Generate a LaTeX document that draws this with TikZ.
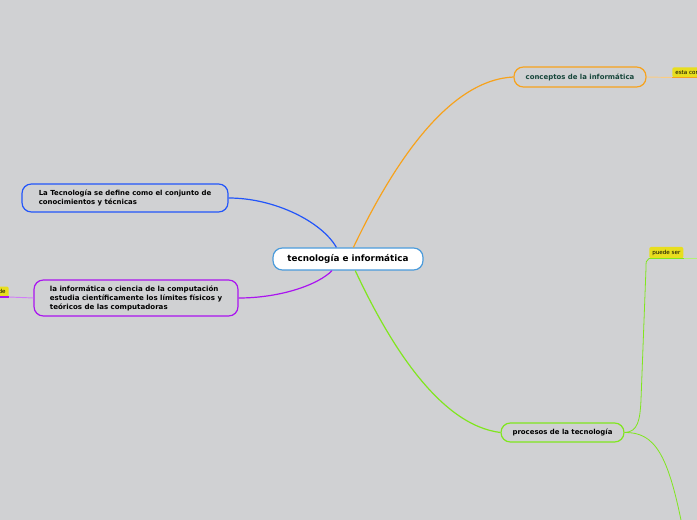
\documentclass[tikz,border=0pt]{standalone}
\usepackage{fontspec}
\setmainfont{DejaVu Sans}
\usetikzlibrary{positioning}
\definecolor{fondo}{RGB}{208,209,211}
\definecolor{azulc}{RGB}{74,155,219}
\definecolor{azul}{RGB}{34,85,250}
\definecolor{naranja}{RGB}{247,162,27}
\definecolor{morado}{RGB}{170,20,240}
\definecolor{verde}{RGB}{128,230,30}
\definecolor{amarillo}{RGB}{232,222,30}
\definecolor{verdeosc}{RGB}{22,70,58}

\begin{document}
\begin{tikzpicture}[x=0.75pt,y=-0.75pt,
    tema/.style={draw,fill=fondo,rounded corners=7pt,line width=0.9pt,inner sep=0pt,
        font=\bfseries\fontsize{5.2}{6.2}\selectfont,align=left},
    etiqueta/.style={fill=amarillo,rounded corners=1.5pt,inner xsep=2.3pt,inner ysep=2.2pt,
        font=\fontsize{4.2}{5}\selectfont},
    rama/.style={line width=0.9pt}]
\useasboundingbox (0,0) rectangle (697,520);
\clip (0,0) rectangle (697,520);
\fill[fondo] (0,0) rectangle (697,520);

% nodos
\node[tema,fill=white,draw=azulc,rounded corners=7pt,font=\bfseries\fontsize{6.6}{7.5}\selectfont,
    minimum width=112.5pt,minimum height=16.5pt] (tec) at (348,259) {tecnología e informática};
\node[tema,draw=naranja,text=verdeosc,minimum width=99pt,minimum height=15pt] (con) at (580,77)
    {conceptos de la informática};
\node[tema,draw=azul,minimum width=154.5pt,minimum height=21pt] (def) at (125,198)
    {La Tecnología se define como el conjunto de\\conocimientos y técnicas};
\node[tema,draw=morado,minimum width=153pt,minimum height=27pt,font=\bfseries\fontsize{5.3}{6.7}\selectfont] (inf) at (136,298)
    {la informática o ciencia de la computación\\estudia científicamente los límites físicos y\\teóricos de las computadoras};
\node[tema,draw=verde,minimum width=92.25pt,minimum height=14.25pt] (pro) at (562.5,432.5)
    {procesos de la tecnología};

% etiquetas
\node[etiqueta,anchor=south west] (esta) at (672,77.5) {esta cor};
\node[etiqueta,anchor=south east] (de) at (9,297) {de};
\node[etiqueta,anchor=south west] (ps) at (649,258.5) {puede ser};

% ramas
\draw[rama,azul] (tec.135) .. controls (322,222) and (275,198) .. (def.east);
\draw[rama,morado] (tec.216) .. controls (318,285) and (280,298) .. (inf.east);
\draw[rama,naranja] (tec.65) .. controls (395,160) and (450,80) .. (con.west);
\draw[rama,verde] (tec.302) .. controls (390,345) and (440,425) .. (pro.west);

% subramas
\draw[naranja!55,line width=0.7pt] (con.east) -- (esta.south west);
\draw[naranja,line width=1.2pt] (esta.south west) -- (esta.south east);
\draw[morado!55,line width=0.7pt] (inf.west) -- (de.south east);
\draw[morado,line width=1.2pt] (de.south west) -- (de.south east);
\draw[verde,line width=0.6pt] (pro.east) .. controls (638,432) and (640,420) .. (641,400)
    -- (646,268) .. controls (646,261) .. (ps.south west);
\draw[verde,line width=1.2pt] (ps.south west) -- (ps.south east);
\draw[verde!60,line width=0.6pt] (ps.south east) -- (697,258.5);
\draw[verde,line width=0.6pt] (pro.east) .. controls (655,432) and (668,455) .. (682,525);
\end{tikzpicture}
\end{document}
